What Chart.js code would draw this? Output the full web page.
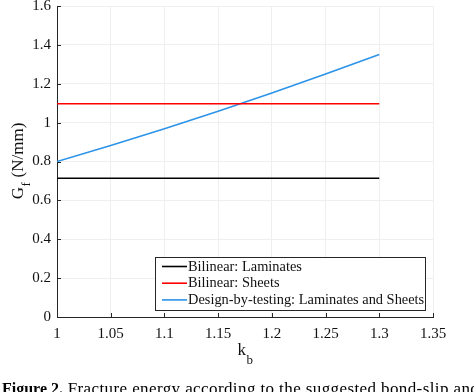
<!DOCTYPE html>
<html><head><meta charset="utf-8">
<script src="https://cdn.jsdelivr.net/npm/chart.js@4"></script>
<style>
html,body{margin:0;padding:0;background:#fff;overflow:hidden}
#wrap{position:relative;width:474px;height:392px}
#caption{position:absolute;left:2px;top:380px;width:472px;white-space:nowrap;overflow:hidden;font:17px "Liberation Serif",serif;line-height:17px;letter-spacing:0.4px;color:#000}
#caption b{font-size:16px;letter-spacing:0}
</style></head><body>
<div id="wrap"><canvas id="c" width="474" height="392"></canvas>
<div id="caption"><b>Figure 2.</b> Fracture energy according to the suggested bond-slip and design-by-testing approaches</div></div>
<script>
const kb = [1, 1.05, 1.1, 1.15, 1.2, 1.25, 1.3];
const bilinearLaminates = [0.714, 0.714, 0.714, 0.714, 0.714, 0.714, 0.714];
const bilinearSheets = [1.097, 1.097, 1.097, 1.097, 1.097, 1.097, 1.097];
const designByTesting = [0.800, 0.882, 0.968, 1.058, 1.152, 1.250, 1.350];
const seriesLabels = ['Bilinear: Laminates', 'Bilinear: Sheets', 'Design-by-testing: Laminates and Sheets'];
const seriesColors = ['#000000', '#ff0000', '#2b93e8'];
const xTicks = [1, 1.05, 1.1, 1.15, 1.2, 1.25, 1.3, 1.35];
const yTicks = [0, 0.2, 0.4, 0.6, 0.8, 1, 1.2, 1.4, 1.6];

const AX = '#262626';
const SERIF = '"Liberation Serif", "Times New Roman", serif';

function pts(ys){ return kb.map((x,i)=>({x:x, y:ys[i]})); }
const seriesData = [bilinearLaminates, bilinearSheets, designByTesting];

const decor = {
  id: 'decor',
  afterDatasetsDraw(chart){
    const ctx = chart.ctx, a = chart.chartArea;
    const xs = chart.scales.x, ys = chart.scales.y;
    ctx.save();
    // inward tick marks
    ctx.strokeStyle = AX; ctx.lineWidth = 1;
    ctx.beginPath();
    xTicks.forEach(v=>{ const p = Math.round(xs.getPixelForValue(v))+0.5; ctx.moveTo(p, a.bottom); ctx.lineTo(p, a.bottom-4); });
    yTicks.forEach(v=>{ const p = Math.round(ys.getPixelForValue(v))+0.5; ctx.moveTo(a.left, p); ctx.lineTo(a.left+4, p); });
    ctx.stroke();
    // legend
    const lx = 155.5, ly = 257.5, lw = 270, lh = 53;
    ctx.fillStyle = '#fff'; ctx.fillRect(lx, ly, lw, lh);
    ctx.strokeStyle = AX; ctx.lineWidth = 1; ctx.strokeRect(lx, ly, lw, lh);
    ctx.font = '14.4px ' + SERIF; ctx.textBaseline = 'middle'; ctx.textAlign = 'left'; ctx.fillStyle = '#111';
    chart.data.datasets.forEach((ds,i)=>{
      const y = 266.5 + i*16.7;
      ctx.strokeStyle = ds.borderColor; ctx.lineWidth = 1.6;
      ctx.beginPath(); ctx.moveTo(162, y); ctx.lineTo(187, y); ctx.stroke();
      ctx.fillText(ds.label, 188, y+0.5);
    });
    // axis titles
    ctx.fillStyle = '#111'; ctx.textBaseline = 'alphabetic';
    const big = '17px ' + SERIF, small = '13px ' + SERIF;
    // x title: k_b
    ctx.font = big; const wk = ctx.measureText('k').width;
    ctx.font = small; const wb = ctx.measureText('b').width;
    let x0 = (a.left + a.right)/2 - (wk+wb)/2;
    ctx.font = big; ctx.fillText('k', x0, 355);
    ctx.font = small; ctx.fillText('b', x0+wk+0.5, 364);
    // y title: G_f (N/mm)
    ctx.save();
    ctx.translate(23, (a.top + a.bottom)/2);
    ctx.rotate(-Math.PI/2);
    ctx.font = big; const wG = ctx.measureText('G').width, wR = ctx.measureText(' (N/mm)').width;
    ctx.font = small; const wf = ctx.measureText('f').width;
    let s = -(wG+wf+wR)/2;
    ctx.font = big; ctx.fillText('G', s, 0);
    ctx.font = small; ctx.fillText('f', s+wG+0.5, 7);
    ctx.font = big; ctx.fillText(' (N/mm)', s+wG+wf+1, 0);
    ctx.restore();
    ctx.restore();
  }
};

new Chart(document.getElementById('c'), {
  type: 'line',
  data: {
    datasets: seriesData.map((d,i)=>({
      label: seriesLabels[i], data: pts(d), borderColor: seriesColors[i], backgroundColor: seriesColors[i],
      borderWidth: 1.6, pointRadius: 0, tension: 0, fill: false
    }))
  },
  options: {
    responsive: false, animation: false, devicePixelRatio: 1,
    layout: { padding: { left: 0, top: 6, right: 41, bottom: 0 } },
    plugins: { legend: { display: false }, tooltip: { enabled: false } },
    scales: {
      x: {
        type: 'linear', min: 1, max: 1.35,
        afterBuildTicks: s => { s.ticks = xTicks.map(v=>({value:v})); },
        afterFit: s => { s.height = 75; s.paddingLeft = 0; s.paddingRight = 0; },
        grid: { color: '#efefef', drawTicks: false, lineWidth: 1 },
        border: { display: true, color: AX, width: 1 },
        ticks: { color: '#111', font: { family: SERIF, size: 15 }, padding: 8, maxRotation: 0, autoSkip: false,
          callback: v => String(Number(v.toFixed(2))) }
      },
      y: {
        type: 'linear', min: 0, max: 1.6,
        afterBuildTicks: s => { s.ticks = yTicks.map(v=>({value:v})); },
        afterFit: s => { s.width = 57; s.paddingTop = 0; s.paddingBottom = 0; },
        grid: { color: '#efefef', drawTicks: false, lineWidth: 1 },
        border: { display: true, color: AX, width: 1 },
        ticks: { color: '#111', font: { family: SERIF, size: 15 }, padding: 6, autoSkip: false,
          callback: v => String(Number(v.toFixed(2))) }
      }
    }
  },
  plugins: [decor]
});
</script></body></html>
